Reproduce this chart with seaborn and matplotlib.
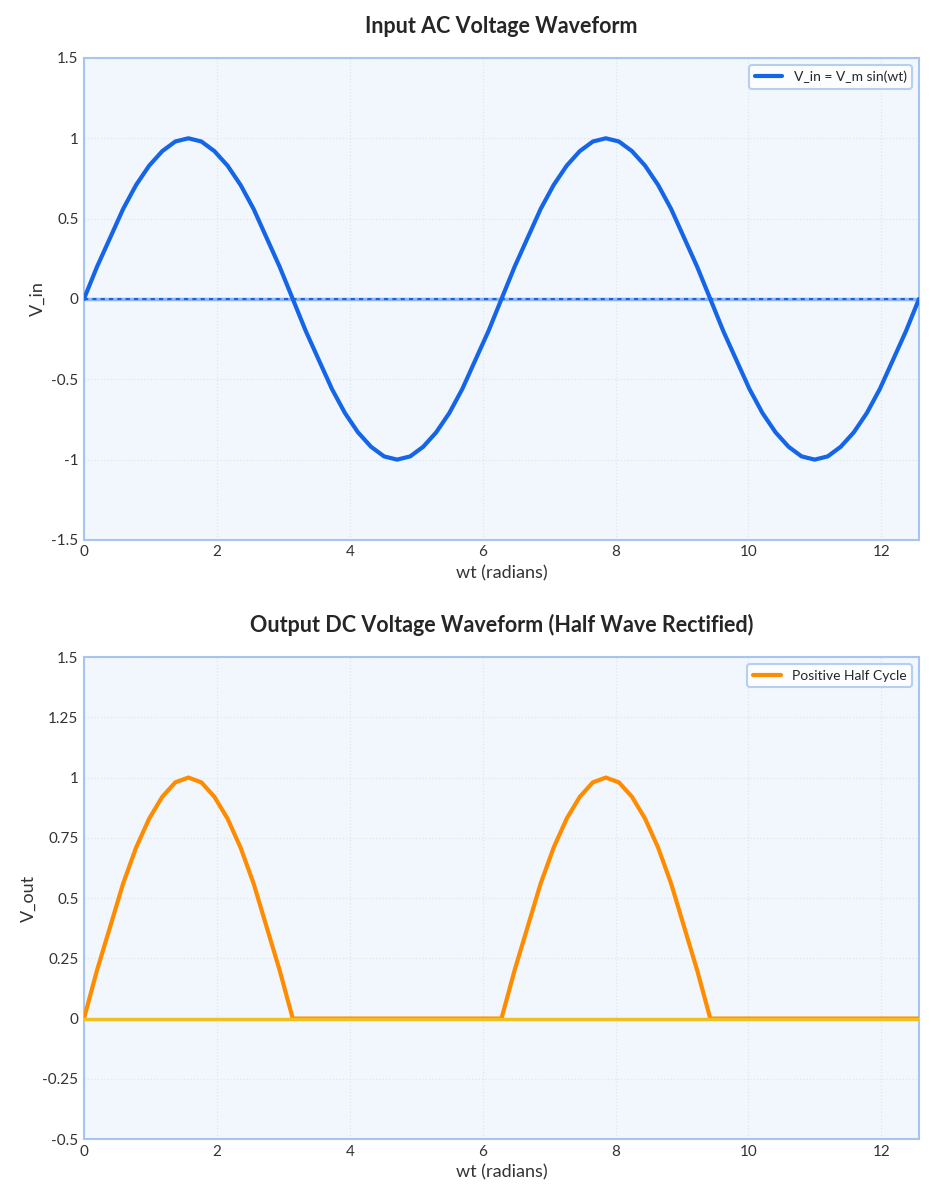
import matplotlib
matplotlib.use("Agg")
import matplotlib.pyplot as plt
import seaborn as sns
import pandas as pd

sns.set_theme(style="whitegrid")
plt.rcParams['font.family'] = ['Lato', 'DejaVu Sans']

# sample points (wt in radians)
wt = [0.0, 0.196, 0.393, 0.589, 0.785, 0.982, 1.178, 1.374, 1.571, 1.767, 1.963, 2.160, 2.356,
      2.553, 2.749, 2.945, 3.142, 3.338, 3.534, 3.731, 3.927, 4.123, 4.320, 4.516, 4.712,
      4.909, 5.105, 5.301, 5.498, 5.694, 5.890, 6.087, 6.283, 6.480, 6.676, 6.872, 7.069,
      7.265, 7.461, 7.658, 7.854, 8.050, 8.247, 8.443, 8.639, 8.836, 9.032, 9.228, 9.425,
      9.621, 9.817, 10.014, 10.210, 10.407, 10.603, 10.799, 10.996, 11.192, 11.388, 11.585,
      11.781, 11.977, 12.174, 12.370, 12.566]
v_in = [0.0, 0.20, 0.38, 0.56, 0.71, 0.83, 0.92, 0.98, 1.0, 0.98, 0.92, 0.83, 0.71,
        0.56, 0.38, 0.20, 0.0, -0.20, -0.38, -0.56, -0.71, -0.83, -0.92, -0.98, -1.0,
        -0.98, -0.92, -0.83, -0.71, -0.56, -0.38, -0.20, 0.0, 0.20, 0.38, 0.56, 0.71,
        0.83, 0.92, 0.98, 1.0, 0.98, 0.92, 0.83, 0.71, 0.56, 0.38, 0.20, 0.0,
        -0.20, -0.38, -0.56, -0.71, -0.83, -0.92, -0.98, -1.0, -0.98, -0.92, -0.83,
        -0.71, -0.56, -0.38, -0.20, 0.0]
v_out = [0.0, 0.20, 0.38, 0.56, 0.71, 0.83, 0.92, 0.98, 1.0, 0.98, 0.92, 0.83, 0.71,
         0.56, 0.38, 0.20, 0.0, 0.0, 0.0, 0.0, 0.0, 0.0, 0.0, 0.0, 0.0,
         0.0, 0.0, 0.0, 0.0, 0.0, 0.0, 0.0, 0.0, 0.20, 0.38, 0.56, 0.71,
         0.83, 0.92, 0.98, 1.0, 0.98, 0.92, 0.83, 0.71, 0.56, 0.38, 0.20, 0.0,
         0.0, 0.0, 0.0, 0.0, 0.0, 0.0, 0.0, 0.0, 0.0, 0.0, 0.0,
         0.0, 0.0, 0.0, 0.0, 0.0]
in_ticks = [-1.5, -1, -0.5, 0, 0.5, 1, 1.5]
in_labels = ["-1.5", "-1", "-0.5", "0", "0.5", "1", "1.5"]
out_ticks = [-0.5, -0.25, 0, 0.25, 0.5, 0.75, 1, 1.25, 1.5]
out_labels = ["-0.5", "-0.25", "0", "0.25", "0.5", "0.75", "1", "1.25", "1.5"]

df = pd.DataFrame({"wt": wt, "v_in": v_in, "v_out": v_out})

fig, axes = plt.subplots(2, 1, figsize=(9.33, 12), dpi=100)
fig.subplots_adjust(left=0.09, right=0.985, top=0.9517, bottom=0.0508, hspace=0.243)
spine_c = "#a8c4f0"
for ax in axes:
    ax.set_facecolor("#f2f7fd")
    for s in ax.spines.values():
        s.set_color(spine_c); s.set_linewidth(1.5)
    ax.grid(True, color="#dde6f2", linestyle=":", linewidth=0.9)
    ax.set_xlim(0, 12.566)
    ax.set_xticks([0, 2, 4, 6, 8, 10, 12])
    ax.tick_params(labelsize=11, colors="#333333", length=0, pad=4)
    ax.set_xlabel("wt (radians)", fontsize=13, color="#333333")

ax = axes[0]
ax.axhline(0, color="#8fb4f0", lw=2.5, zorder=2)
ax.axhline(0, color="#1565e0", lw=1.5, ls=(0, (2, 2)), zorder=3)
sns.lineplot(data=df, x="wt", y="v_in", ax=ax, color="#1565e8", lw=3,
             label="V_in = V_m sin(wt)", zorder=4)
ax.set_ylim(-1.5, 1.5)
ax.set_yticks(in_ticks); ax.set_yticklabels(in_labels)
ax.set_ylabel("V_in", fontsize=13, color="#333333")
ax.set_title("Input AC Voltage Waveform", fontsize=15.5, fontweight="bold", pad=18)
leg = ax.legend(loc="upper right", fontsize=10, frameon=True)
leg.get_frame().set_edgecolor(spine_c); leg.get_frame().set_linewidth(1.5)

ax = axes[1]
sns.lineplot(data=df, x="wt", y="v_out", ax=ax, color="#ff8c00", lw=3,
             label="Positive Half Cycle", zorder=3)
ax.axhline(0, color="#f0c020", lw=2.5, zorder=4)
ax.set_ylim(-0.5, 1.5)
ax.set_yticks(out_ticks); ax.set_yticklabels(out_labels)
ax.set_ylabel("V_out", fontsize=13, color="#333333")
ax.set_title("Output DC Voltage Waveform (Half Wave Rectified)", fontsize=15.5, fontweight="bold", pad=18)
leg = ax.legend(loc="upper right", fontsize=10, frameon=True)
leg.get_frame().set_edgecolor(spine_c); leg.get_frame().set_linewidth(1.5)

fig.savefig("out.png", dpi=100, facecolor="white")
